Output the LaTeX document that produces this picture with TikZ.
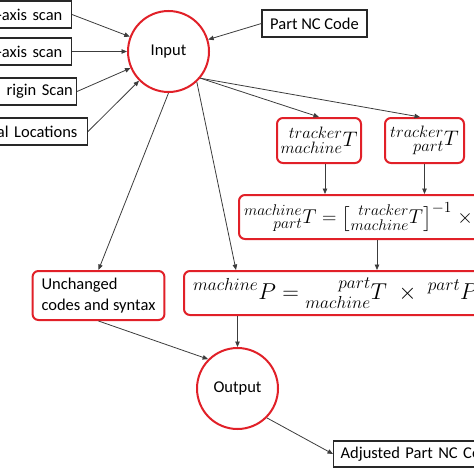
\documentclass[tikz,border=0pt]{standalone}
\usepackage{fix-cm}
\usepackage{mathtools}
\usepackage[no-math]{fontspec}
\setmainfont{Carlito}
\usetikzlibrary{arrows.meta,calc}
\DeclareMathSizes{21}{21}{16.5}{12}
\DeclareMathSizes{20}{20}{15.5}{11}
\DeclareMathSizes{23}{23}{17.4}{12}
\definecolor{redc}{RGB}{225,32,40}
\definecolor{boxc}{RGB}{40,40,40}
\definecolor{linec}{RGB}{60,60,60}
\tikzset{
  txt/.style={font=\fontsize{16.5}{21}\selectfont},
  mth/.style={font=\fontsize{21}{25}\selectfont},
  mtha/.style={font=\fontsize{20}{24}\selectfont},
  mthb/.style={font=\fontsize{23}{27}\selectfont},
  kbox/.style={draw=boxc, line width=1.2pt, fill=white, txt},
  lbox/.style={kbox, anchor=east, text width=100pt, align=right, minimum height=27pt, inner ysep=0pt},
  rbox/.style={draw=redc, line width=2pt, rounded corners=6pt, fill=white},
  rcirc/.style={circle, draw=redc, line width=2pt, minimum size=81pt, inner sep=0pt, fill=white, txt},
  arr/.style={draw=linec, line width=0.8pt, -{Triangle[length=5.5pt,width=4.5pt]}}
}
\begin{document}
\begin{tikzpicture}[x=1pt,y=-1pt]
\useasboundingbox (0,0) rectangle (474,474);
\clip (0,0) rectangle (474,474);
% left input boxes
\node[lbox, inner xsep=9pt] (b1) at (72,14.5) {-axis scan};
\node[lbox, inner xsep=9pt] (b2) at (72,51.5) {-axis scan};
\node[lbox, inner xsep=3.5pt] (b3) at (77,91.5) {rigin Scan};
\node[lbox, inner xsep=10pt] (b4) at (88,131.5) {al Locations};
% top right
\node[kbox, minimum width=105pt, minimum height=27pt, inner sep=0pt] (nc) at (314.5,23.5) {Part NC Code};
% circles
\node[rcirc] (input) at (168.5,51.5) {Input};
\node[rcirc] (output) at (237.5,388.5) {Output};
% tracker boxes
\node[rbox, mth, minimum width=84pt, minimum height=45pt, inner sep=0pt] (tm) at (319,140.5) {$\prescript{tracker}{machine}{T}$};
\node[rbox, mth, minimum width=79pt, minimum height=45pt, inner sep=0pt] (tp) at (424.5,140.5) {$\prescript{tracker}{part}{T}$};
% formula boxes
\node[rbox, mtha, anchor=west, text width=300pt, align=left, inner xsep=5pt, inner ysep=0pt, minimum height=44pt] (f1) at (238,217)
  {$\prescript{machine}{part}{T} = \bigl[\prescript{tracker}{machine}{T}\bigr]^{-1} \;\times$};
\node[rbox, mthb, anchor=west, text width=300pt, align=left, inner xsep=9pt, inner ysep=0pt, minimum height=44pt] (f2) at (183,293)
  {$\prescript{machine}{}{P} = \prescript{part}{machine}{T} \;\times\; \prescript{part}{}{P}$};
\node[rbox, txt, align=left, inner xsep=9pt, inner ysep=0pt, minimum width=131pt, minimum height=49pt] (unch) at (98.5,295.5)
  {Unchanged\\codes and syntax};
\node[kbox, anchor=west, text width=150pt, align=left, inner xsep=7pt, inner ysep=0pt, minimum height=26pt] (adj) at (333,454) {Adjusted Part NC Co};
% helper coordinates
\coordinate (x236) at (236,0);
\coordinate (x377) at (377,0);
% connectors
\draw[arr] (b1.east) -- (input);
\draw[arr] (b2.east) -- (input);
\draw[arr] (b3.east) -- (input);
\draw[arr] (b4.east) -- (input);
\draw[arr] (nc.west) -- (input);
\draw[arr] (input.-40) -- (tm.north);
\draw[arr] (input.-40) -- ([xshift=-4.5pt]tp.north);
\draw[arr] ([xshift=6pt]tm.south) -- ([xshift=6pt]tm.south |- f1.north);
\draw[arr] (tp.south) -- (tp.south |- f1.north);
\draw[arr] (f1.south -| x377) -- (f2.north -| x377);
\draw[arr] (input.-47) -- (f2.north -| x236);
\draw[arr] (input.south) -- (unch.north);
\draw[arr] (f2.south -| output.north) -- (output.north);
\draw[arr] (unch.south) -- (output.north west);
\draw[arr] (output.south east) -- (adj.west);
\end{tikzpicture}
\end{document}
